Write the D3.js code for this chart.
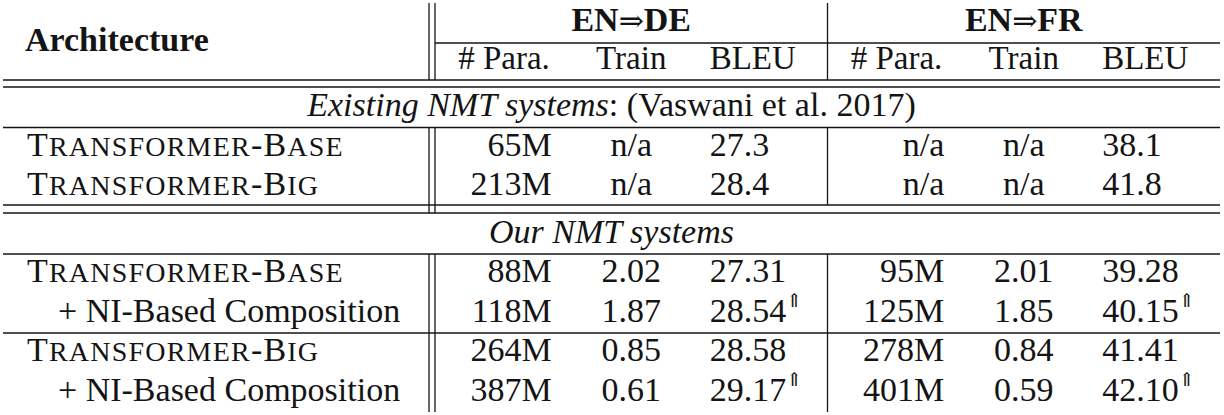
<!DOCTYPE html>
<html><head><meta charset="utf-8">
<script src="https://cdn.jsdelivr.net/npm/d3@7/dist/d3.min.js"></script>
<style>
html,body{margin:0;padding:0;background:#fff;}
</style></head>
<body><svg id="c" width="1224" height="415" font-family="'Liberation Serif', 'Times New Roman', Tinos, 'DejaVu Serif', serif"></svg>
<script>
// ---- data ----
const groups = ["EN⇒DE", "EN⇒FR"];
const subHeaders = ["# Para.", "Train", "BLEU"];
const sections = ["Existing NMT systems", "Our NMT systems"];
const existingLabels = ["Transformer-Base", "Transformer-Big"];
const existingDE = [["65M", "n/a", "27.3"], ["213M", "n/a", "28.4"]];
const existingFR = [["n/a", "n/a", "38.1"], ["n/a", "n/a", "41.8"]];
const oursLabels = ["Transformer-Base", "+ NI-Based Composition", "Transformer-Big", "+ NI-Based Composition"];
const oursDE = [["88M", "2.02", "27.31"], ["118M", "1.87", "28.54"], ["264M", "0.85", "28.58"], ["387M", "0.61", "29.17"]];
const oursFR = [["95M", "2.01", "39.28"], ["125M", "1.85", "40.15"], ["278M", "0.84", "41.41"], ["401M", "0.59", "42.10"]];
const oursUp = [false, true, false, true];

// ---- layout ----
const svg = d3.select("#c");
const SERIF = "'Liberation Serif', 'Times New Roman', Tinos, 'DejaVu Serif', serif";
const FS = 34, SC = 28, ink = "#141414", LW = 1.3;
const left = 3, right = 1220, vA = 429, vB = 435;
const groupX = d3.scaleBand().domain(groups).range([vB, right]);
const colX = d3.scaleBand().domain(subHeaders).range([0, groupX.bandwidth()]);
const pad = 14;
function anchorX(g, c) {
  const x0 = groupX(g) + colX(c);
  if (c === "# Para.") return x0 + colX.bandwidth() - pad;
  if (c === "Train") return x0 + colX.bandwidth() / 2;
  return x0 + pad - 1;
}
const anchorOf = c => c === "# Para." ? "end" : (c === "Train" ? "middle" : "start");

const rowY = d3.scaleLinear().domain([0, 1]).range([116, 155.5]);
const yRow = i => rowY(i) + (i >= 3 ? 8 : 0);
const below = i => yRow(i) + 11.5;

function txt(x, y, size) {
  return svg.append("text").attr("x", x).attr("y", y).attr("font-size", size)
    .attr("font-family", SERIF).attr("fill", ink);
}
function line(x1, y1, x2, y2) {
  svg.append("line").attr("x1", x1).attr("y1", y1).attr("x2", x2).attr("y2", y2)
    .attr("stroke", ink).attr("stroke-width", LW);
}
function smallCaps(sel, s) {
  for (const ch of s) {
    const up = ch === ch.toUpperCase();
    sel.append("tspan").attr("font-size", up ? FS : SC).text(ch.toUpperCase());
  }
}

// ---- header ----
txt(25, 51, FS).attr("font-weight", "bold").text("Architecture");
groups.forEach(g => {
  const t = txt(groupX(g) + groupX.bandwidth() / 2, 31, FS).attr("text-anchor", "middle").attr("font-weight", "bold");
  const [a, b] = g.split("⇒");
  t.append("tspan").text(a);
  t.append("tspan").attr("font-weight", "normal").attr("font-family", "'DejaVu Serif', serif").attr("font-size", 30).text("⇒");
  t.append("tspan").text(b);
  subHeaders.forEach(c => {
    txt(anchorX(g, c) + (c === "# Para." ? -2 : 0), 69, FS - 1).attr("text-anchor", anchorOf(c)).text(c);
  });
});

line(vB, 43, right, 43);
line(left, 80, right, 80);
line(left, 87, right, 87);
line(vA, 3, vA, 80); line(vB, 3, vB, 80);
line(groupX(groups[1]), 3, groupX(groups[1]), 80);

// ---- sections ----
const sec0 = txt((left + right) / 2, yRow(0), FS).attr("text-anchor", "middle");
sec0.append("tspan").attr("font-style", "italic").text(sections[0]);
sec0.append("tspan").text(": (Vaswani et al. 2017)");
txt((left + right) / 2, yRow(3), FS).attr("text-anchor", "middle").attr("font-style", "italic").text(sections[1]);

function dataRow(i, label, de, fr, up) {
  const y = yRow(i);
  if (label.startsWith("+")) { txt(58, y, FS).text(label); }
  else { const t = txt(27, y, FS).attr("letter-spacing", 1.2); smallCaps(t, label); }
  [[groups[0], de], [groups[1], fr]].forEach(([g, vals]) => {
    subHeaders.forEach((c, k) => {
      const tt = txt(anchorX(g, c), y, FS).attr("text-anchor", anchorOf(c)).text(vals[k]);
      if (up && c === "BLEU") {
        tt.append("tspan").attr("font-family", "'DejaVu Serif', serif").attr("font-size", 19).attr("dy", -15).text("⇑");
      }
    });
  });
}
existingLabels.forEach((l, j) => dataRow(1 + j, l, existingDE[j], existingFR[j], false));
oursLabels.forEach((l, j) => dataRow(4 + j, l, oursDE[j], oursFR[j], oursUp[j]));

line(left, below(0), right, below(0));
line(left, 205, right, 205);
line(left, 213, right, 213);
line(left, below(3), right, below(3));
line(left, below(5), right, below(5));
const xs = groupX(groups[1]);
line(vA, below(0), vA, 213); line(vB, below(0), vB, 213);
line(xs, below(0), xs, 205);
line(vA, below(3), vA, below(7)); line(vB, below(3), vB, below(7));
line(xs, below(3), xs, below(7));
</script></body></html>
